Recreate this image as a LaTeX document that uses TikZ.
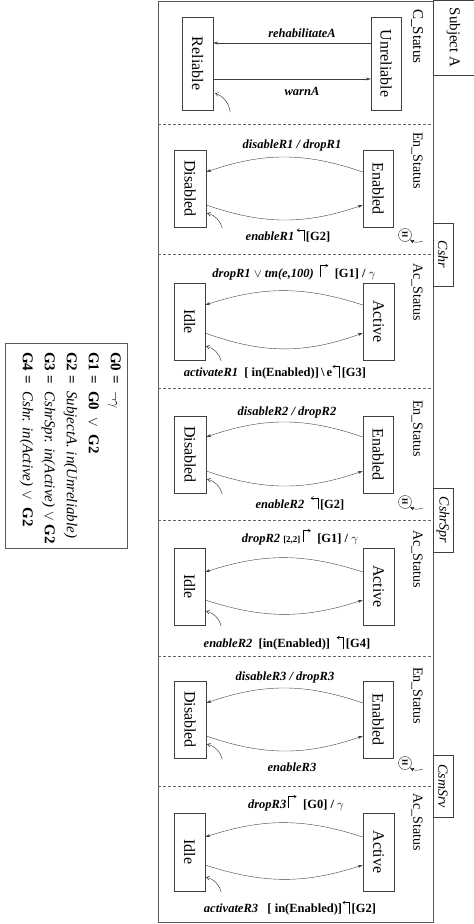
\documentclass[tikz,border=0pt]{standalone}
\usepackage{fontspec}
\setmainfont{Liberation Serif}
\usepackage{graphicx}
\usetikzlibrary{arrows.meta}

\newcommand{\vtext}[1]{\rotatebox[origin=c]{-90}{#1}}
\newcommand{\cornl}{\tikz[baseline=0pt,x=1pt,y=1pt]\draw[line width=0.4pt,-{Straight Barb[length=2.5pt,width=3.5pt]}] (7,-1) -- (7,10) -- (0,10);}
\newcommand{\cornr}{\tikz[baseline=0pt,x=1pt,y=1pt]\draw[line width=0.4pt,-{Straight Barb[length=2.5pt,width=3.5pt]}] (0,1) -- (0,12) -- (8,12);}

\tikzset{
  state/.style={draw=black!75, minimum width=31pt, minimum height=77pt, inner sep=0pt, font=\fontsize{16}{18}\selectfont},
  trans/.style={draw=black!75, -{Stealth[length=5pt,width=3pt]}},
  lbl/.style={inner sep=0pt, font=\fontsize{12.5}{14}\selectfont\bfseries},
  reg/.style={rotate=-90, anchor=west, inner sep=0pt, font=\fontsize{14}{16}\selectfont},
  tab/.style={draw=black!75, fill=white, inner sep=0pt, minimum width=20pt, font=\fontsize{14}{16}\selectfont\itshape},
  sep/.style={draw=black!60, dash pattern=on 3pt off 2pt},
  init/.style={draw=black!85, -{Straight Barb[length=3pt,width=4pt]}},
  hist/.style={draw=black!85, circle, minimum size=13pt, inner sep=0pt, font=\fontsize{8}{8}\selectfont\bfseries},
  hin/.style={draw=black!85, -{Latex[length=4pt,width=3.5pt]}},
}

\begin{document}
\begin{tikzpicture}[x=1pt,y=-1pt]
  \useasboundingbox (0,0) rectangle (474,924);

  % frame, regions
  \draw[draw=black!65, line width=0.8pt] (158,1) rectangle (433,922);
  \draw[sep] (158,124) -- (433,124);
  \draw[sep] (158,254) -- (433,254);
  \draw[sep] (158,388) -- (433,388);
  \draw[sep] (158,520) -- (433,520);
  \draw[sep] (158,656) -- (433,656);
  \draw[sep] (158,786) -- (433,786);

  % object tabs
  \node[tab, minimum width=41pt, minimum height=75pt, font=\fontsize{15}{17}\selectfont] (subj) at (453.5,37.5) {\vtext{Subject A}};
  \node[tab, minimum height=63pt] (cshr) at (443,254.5) {\vtext{Cshr}};
  \node[tab, minimum height=64pt] (cshrspr) at (443,520) {\vtext{CshrSpr}};
  \node[tab, minimum height=62pt] (csmsrv) at (443,786) {\vtext{CsmSrv}};

  % C_Status
  \node[reg, font=\fontsize{15}{17}\selectfont] (cst) at (417,9) {C\_Status};
  \node[state, minimum height=93pt] (rel) at (197.5,63.5) {\vtext{Reliable}};
  \node[state, minimum height=93pt, minimum width=30pt] (unrel) at (386,63.5) {\vtext{Unreliable}};
  \draw[trans] ([yshift=20.5pt]unrel.west) -- ([yshift=20.5pt]rel.east);
  \draw[trans] ([yshift=-15.5pt]rel.east) -- ([yshift=-15.5pt]unrel.west);
  \node[lbl] (rehab) at (302,33) {\textit{rehabilitateA}};
  \node[lbl] (warn) at (302,91) {\textit{warnA}};
  \coordinate (i1) at ([xshift=17pt,yshift=-2pt]rel.south east);
  \draw[init] (i1) to[bend right=30] ([xshift=2pt,yshift=17pt]rel.south east);

  % Cshr En_Status
  \node[reg] (en1) at (417,132) {En\_Status};
  \node[state, minimum width=32pt] (dis1) at (190,188.5) {\vtext{Disabled}};
  \node[state, minimum width=30pt] (ena1) at (378,188.5) {\vtext{Enabled}};
  \draw[trans] ([yshift=16.5pt]ena1.west) to[bend right=19] ([yshift=16.5pt]dis1.east);
  \draw[trans] ([yshift=-16.5pt]dis1.east) to[bend right=19] ([yshift=-16.5pt]ena1.west);
  \node[lbl] (t1) at (292,145) {\textit{disableR1 / dropR1}};
  \node[lbl] (t2) at (288,235) {\textit{enableR1}\,\cornl\,[G2]};
  \coordinate (i2) at ([xshift=16pt,yshift=-1pt]dis1.south east);
  \draw[init] (i2) to[bend right=30] ([xshift=1pt,yshift=14pt]dis1.south east);
  \node[hist] (h1) at (405,235) {\vtext{H}};
  \coordinate (hi1) at (423,241);
  \draw[hin] (hi1) to[bend left=25] (h1);

  % Cshr Ac_Status
  \node[reg] (ac1) at (417,263) {Ac\_Status};
  \node[state] (idle1) at (189.5,321.5) {\vtext{Idle}};
  \node[state] (act1) at (378.5,321.5) {\vtext{Active}};
  \draw[trans] ([yshift=16.5pt]act1.west) to[bend right=18] ([yshift=16.5pt]idle1.east);
  \draw[trans] ([yshift=-11.5pt]idle1.east) to[bend right=20] ([yshift=-11.5pt]act1.west);
  \node[lbl] (t3) at (294,272) {\textit{dropR1} $\vee$ \textit{tm(e,100)}\ \ \cornr\ \ [G1] / $\gamma$};
  \node[lbl] (t4) at (275,372) {\textit{activateR1}\ \ [ in(Enabled)]\,\textbackslash\,e\cornl\,[G3]};
  \coordinate (i3) at ([xshift=16pt,yshift=-1pt]idle1.south east);
  \draw[init] (i3) to[bend right=30] ([xshift=1pt,yshift=14pt]idle1.south east);

  % CshrSpr En_Status
  \node[reg] (en2) at (417,400) {En\_Status};
  \node[state, minimum width=32pt] (dis2) at (190,454.5) {\vtext{Disabled}};
  \node[state, minimum width=30pt] (ena2) at (378,454.5) {\vtext{Enabled}};
  \draw[trans] ([yshift=17.5pt]ena2.west) to[bend right=19] ([yshift=17.5pt]dis2.east);
  \draw[trans] ([yshift=-16.5pt]dis2.east) to[bend right=19] ([yshift=-16.5pt]ena2.west);
  \node[lbl] (t5) at (287,412) {\textit{disableR2 / dropR2}};
  \node[lbl] (t6) at (300,503) {\textit{enableR2}\ \ \cornl\,[G2]};
  \coordinate (i4) at ([xshift=16pt,yshift=-1pt]dis2.south east);
  \draw[init] (i4) to[bend right=30] ([xshift=1pt,yshift=14pt]dis2.south east);
  \node[hist] (h2) at (405,502) {\vtext{H}};
  \coordinate (hi2) at (423,508);
  \draw[hin] (hi2) to[bend left=25] (h2);

  % CshrSpr Ac_Status
  \node[reg] (ac2) at (417,530) {Ac\_Status};
  \node[state] (idle2) at (189.5,586.5) {\vtext{Idle}};
  \node[state] (act2) at (378.5,586.5) {\vtext{Active}};
  \draw[trans] ([yshift=14.5pt]act2.west) to[bend right=18] ([yshift=14.5pt]idle2.east);
  \draw[trans] ([yshift=-13.5pt]idle2.east) to[bend right=18] ([yshift=-13.5pt]act2.west);
  \node[lbl] (t7) at (300,537) {\textit{dropR2}\ {\fontsize{9}{10}\selectfont [2,2]}\,\cornr\ \ [G1] / $\gamma$};
  \node[lbl] (t8) at (287,643) {\textit{enableR2}\ \ [in(Enabled)]\ \ \cornl\,[G4]};
  \coordinate (i5) at ([xshift=16pt,yshift=-1pt]idle2.south east);
  \draw[init] (i5) to[bend right=30] ([xshift=1pt,yshift=14pt]idle2.south east);

  % CsmSrv En_Status
  \node[reg] (en3) at (417,667) {En\_Status};
  \node[state, minimum width=32pt] (dis3) at (190,719.5) {\vtext{Disabled}};
  \node[state, minimum width=30pt] (ena3) at (378,719.5) {\vtext{Enabled}};
  \draw[trans] ([yshift=16.5pt]ena3.west) to[bend right=19] ([yshift=16.5pt]dis3.east);
  \draw[trans] ([yshift=-16.5pt]dis3.east) to[bend right=19] ([yshift=-16.5pt]ena3.west);
  \node[lbl] (t9) at (285,677) {\textit{disableR3 / dropR3}};
  \node[lbl] (t10) at (292,767) {\textit{enableR3}};
  \coordinate (i6) at ([xshift=16pt,yshift=-1pt]dis3.south east);
  \draw[init] (i6) to[bend right=30] ([xshift=1pt,yshift=14pt]dis3.south east);
  \node[hist] (h3) at (405,763) {\vtext{H}};
  \coordinate (hi3) at (423,769);
  \draw[hin] (hi3) to[bend left=25] (h3);

  % CsmSrv Ac_Status
  \node[reg] (ac3) at (417,793) {Ac\_Status};
  \node[state, minimum height=78pt] (idle3) at (189.5,852) {\vtext{Idle}};
  \node[state, minimum height=78pt] (act3) at (378.5,852) {\vtext{Active}};
  \draw[trans] ([yshift=15pt]act3.west) to[bend right=18] ([yshift=15pt]idle3.east);
  \draw[trans] ([yshift=-13pt]idle3.east) to[bend right=18] ([yshift=-13pt]act3.west);
  \node[lbl] (t11) at (296,803) {\textit{dropR3}\,\cornr\ \ [G0] / $\gamma$};
  \node[lbl] (t12) at (290,908) {\textit{activateR3}\ \ \ [ in(Enabled)]\cornl\,[G2]};
  \coordinate (i7) at ([xshift=16pt,yshift=-1pt]idle3.south east);
  \draw[init] (i7) to[bend right=30] ([xshift=1pt,yshift=14pt]idle3.south east);

  % guards
  \node[draw=black!65, line width=0.8pt, minimum width=122pt, minimum height=205pt] (gbox) at (66,445.5) {};
  \node[rotate=-90, anchor=north west, align=left, inner sep=0pt, font=\fontsize{15}{22}\selectfont] (guards) at (121,352)
    {\textbf{G0 =} \ $\neg\gamma$\\
     \textbf{G1 = \ G0} \ $\vee$ \ \textbf{G2}\\
     \textbf{G2 =} \ \textit{SubjectA. in(Unreliable)}\\
     \textbf{G3 =} \ \textit{CshrSpr. in(Active)} $\vee$ \textbf{G2}\\
     \textbf{G4 =} \ \textit{Cshr. in(Active)} $\vee$ \ \textbf{G2}};
\end{tikzpicture}
\end{document}
